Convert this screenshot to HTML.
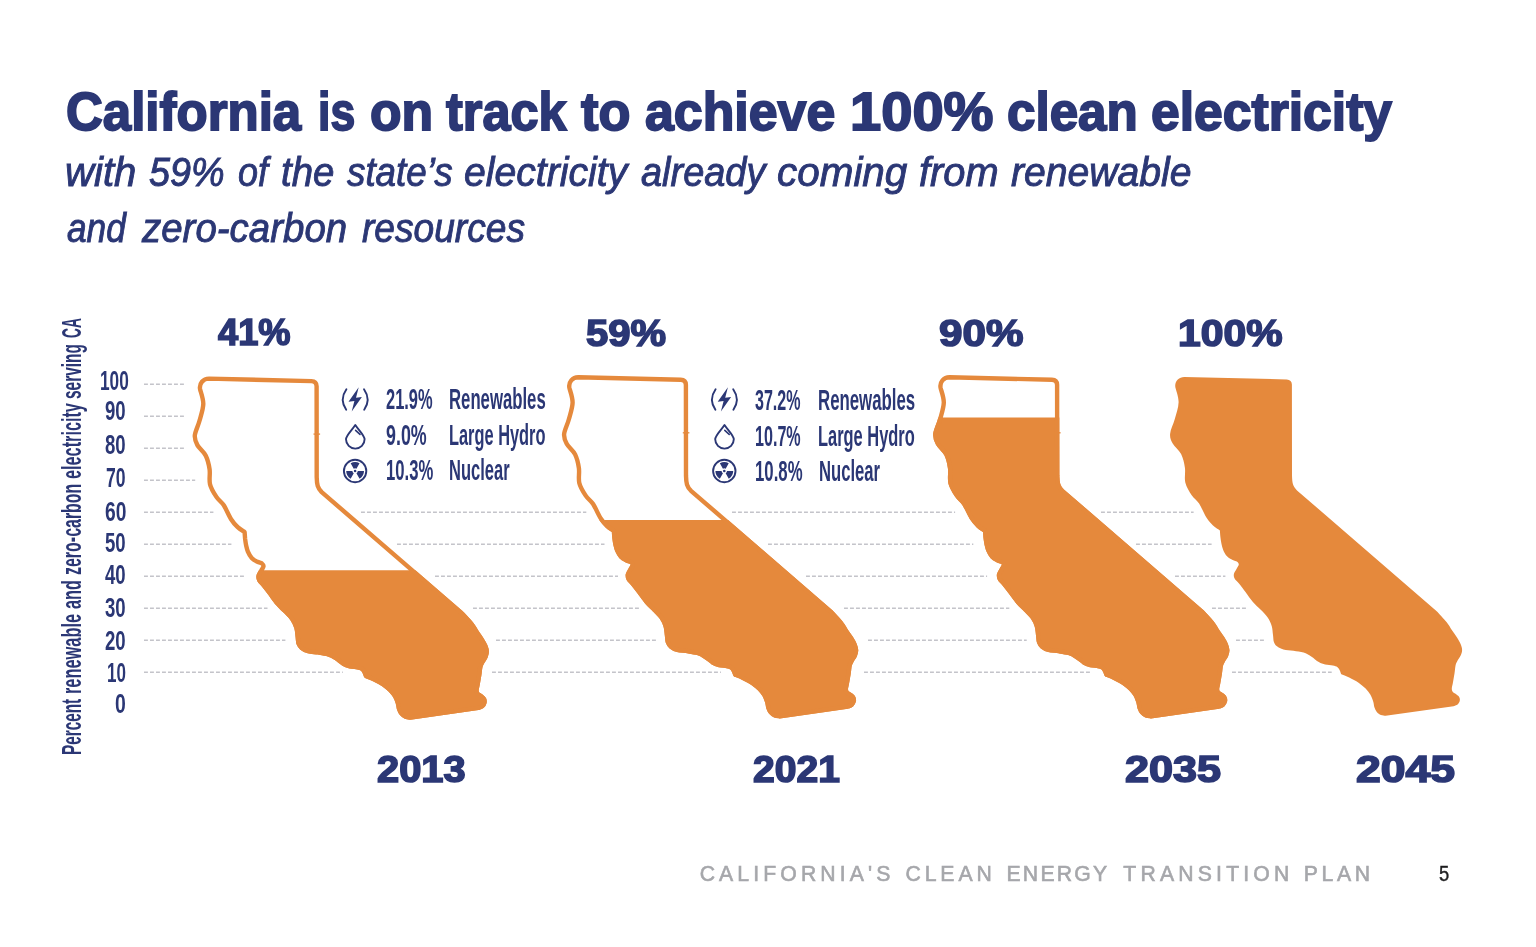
<!DOCTYPE html>
<html lang="en"><head><meta charset="utf-8"><title>California's Clean Energy Transition Plan</title>
<style>
html,body{margin:0;padding:0;background:#fff;}
body{width:1536px;height:947px;position:relative;overflow:hidden;font-family:"Liberation Sans",sans-serif;color:#2b3775;}
svg{position:absolute;left:0;top:0;}
h1,p{margin:0;padding:0;font-size:inherit;font-weight:inherit;}
.t{position:absolute;white-space:nowrap;line-height:1;transform-origin:0 0;}
.ttl{font-weight:bold;-webkit-text-stroke:1.90px #2b3775;}
.sub{font-style:italic;font-weight:normal;-webkit-text-stroke:0.90px #2b3775;}
.blk{font-weight:bold;-webkit-text-stroke:1.60px #2b3775;}
.cnd{font-weight:bold;}
.ftr{color:#a6a7ab;font-weight:normal;-webkit-text-stroke:0.6px #a6a7ab;}
.pg{color:#1d1d1f;font-weight:normal;-webkit-text-stroke:0.4px #1d1d1f;}
.vt{position:absolute;white-space:nowrap;line-height:1;font-weight:bold;transform-origin:0 0;}
</style></head>
<body>
<svg width="1536" height="947" viewBox="0 0 1536 947">
<g stroke="#c4c4ca" stroke-width="1.5" stroke-dasharray="3.9 2.1" fill="none"><line x1="144" y1="384.25" x2="185.1" y2="384.25"/><line x1="144" y1="416.25" x2="185.1" y2="416.25"/><line x1="144" y1="448.25" x2="185.1" y2="448.25"/><line x1="144" y1="480.25" x2="195.2" y2="480.25"/><line x1="144" y1="512.25" x2="213.4" y2="512.25"/><line x1="361" y1="512.25" x2="586.3" y2="512.25"/><line x1="732" y1="512.25" x2="955.1" y2="512.25"/><line x1="1101" y1="512.25" x2="1193.6" y2="512.25"/><line x1="144" y1="544.25" x2="231.4" y2="544.25"/><line x1="397" y1="544.25" x2="604.5" y2="544.25"/><line x1="768" y1="544.25" x2="973.3" y2="544.25"/><line x1="1136" y1="544.25" x2="1211.6" y2="544.25"/><line x1="144" y1="576.25" x2="244.9" y2="576.25"/><line x1="435" y1="576.25" x2="618.0" y2="576.25"/><line x1="806" y1="576.25" x2="987.1" y2="576.25"/><line x1="1175" y1="576.25" x2="1225.4" y2="576.25"/><line x1="144" y1="608.25" x2="267.5" y2="608.25"/><line x1="473" y1="608.25" x2="640.2" y2="608.25"/><line x1="844" y1="608.25" x2="1009.3" y2="608.25"/><line x1="1212" y1="608.25" x2="1247.5" y2="608.25"/><line x1="144" y1="640.25" x2="285.4" y2="640.25"/><line x1="496" y1="640.25" x2="657.9" y2="640.25"/><line x1="868" y1="640.25" x2="1026.7" y2="640.25"/><line x1="1236" y1="640.25" x2="1265.0" y2="640.25"/><line x1="144" y1="672.25" x2="342.8" y2="672.25"/><line x1="492" y1="672.25" x2="720.9" y2="672.25"/><line x1="864" y1="672.25" x2="1090.0" y2="672.25"/><line x1="1232" y1="672.25" x2="1331.7" y2="672.25"/></g>
<defs><path id="ca" d="M1184.3,376.9 L1286.7,379.4 Q1291.8,379.6 1291.9,384.5 L1292,475.5 C1292.2,483 1292.8,486.2 1297,490.4 L1436.7,611.2 C1438.4,613.0 1444.2,619.1 1446.7,622.2 C1449.2,625.3 1450.1,627.4 1451.8,630.0 C1453.5,632.6 1455.5,635.2 1457.0,637.6 C1458.5,640.0 1459.8,642.1 1460.6,644.1 C1461.4,646.1 1462.1,648.0 1462.1,649.9 C1462.1,651.8 1461.5,653.4 1460.8,655.2 C1460.0,657.0 1458.5,658.8 1457.6,660.5 C1456.7,662.2 1456.1,663.1 1455.6,665.2 C1455.1,667.4 1455.0,670.5 1454.5,673.4 C1454.0,676.3 1453.4,680.2 1452.9,682.7 C1452.5,685.2 1451.8,687.0 1451.8,688.6 C1451.8,690.2 1452.1,691.1 1452.9,692.1 C1453.7,693.1 1455.4,693.6 1456.5,694.5 C1457.6,695.4 1458.9,696.3 1459.4,697.4 C1459.9,698.5 1460.0,699.7 1459.7,700.9 C1459.4,702.1 1458.6,703.5 1457.6,704.4 C1456.6,705.3 1454.2,705.9 1453.5,706.2 L1385.6,715.8 C1384.8,715.7 1382.4,715.6 1380.9,715.0 C1379.4,714.4 1377.9,713.3 1376.8,712.0 C1375.7,710.7 1375.0,709.0 1374.4,707.3 C1373.8,705.5 1373.9,703.6 1373.2,701.5 C1372.5,699.4 1371.6,696.6 1370.3,694.5 C1369.0,692.4 1367.5,690.6 1365.6,688.6 C1363.6,686.6 1361.3,684.6 1358.6,682.7 C1355.9,680.9 1352.1,678.9 1349.2,677.5 C1346.3,676.1 1342.6,674.8 1341.3,674.3 C1341.0,673.6 1340.4,671.6 1339.8,670.4 C1339.2,669.2 1338.7,668.0 1337.5,667.2 C1336.3,666.4 1334.8,666.0 1332.8,665.6 C1330.8,665.2 1327.5,665.2 1325.2,664.6 C1322.9,664.0 1321.1,663.5 1318.8,662.1 C1316.5,660.7 1313.7,658.0 1311.2,656.4 C1308.7,654.8 1306.5,653.5 1303.6,652.6 C1300.6,651.7 1296.9,651.2 1293.5,650.7 C1290.1,650.2 1286.2,650.2 1283.4,649.5 C1280.7,648.8 1278.6,647.6 1277.0,646.3 C1275.4,645.0 1274.6,643.8 1273.9,641.9 C1273.2,640.0 1273.4,637.5 1273.0,634.9 C1272.6,632.2 1272.6,629.0 1271.7,626.0 C1270.8,623.0 1269.4,619.9 1267.5,617.2 C1265.6,614.5 1262.9,612.1 1260.5,609.6 C1258.1,607.1 1255.4,605.0 1252.9,602.0 C1250.4,599.0 1247.6,594.9 1245.3,591.8 C1243.0,588.7 1240.8,585.8 1239.0,583.6 C1237.2,581.4 1235.4,580.1 1234.6,578.5 C1233.8,576.9 1233.6,575.7 1233.9,574.1 C1234.2,572.5 1235.7,570.6 1236.5,569.0 C1237.3,567.4 1238.7,565.8 1238.8,564.6 C1238.9,563.4 1238.1,562.5 1237.1,561.7 C1236.1,561.0 1234.4,561.0 1232.7,560.1 C1231.0,559.2 1228.6,558.0 1227.0,556.3 C1225.4,554.6 1224.1,552.1 1223.2,550.0 C1222.3,547.9 1221.9,545.7 1221.4,543.5 C1220.9,541.3 1220.7,539.2 1220.4,537.0 C1220.2,534.8 1220.0,531.5 1219.9,530.4 C1218.8,529.6 1215.2,527.6 1213.0,525.5 C1210.8,523.4 1208.7,521.1 1206.4,517.5 C1204.1,513.9 1201.5,507.3 1199.1,503.6 C1196.6,499.9 1194.0,498.7 1191.7,495.2 C1189.4,491.7 1186.4,487.1 1185.3,482.5 C1184.2,477.9 1185.6,472.4 1184.9,467.7 C1184.2,462.9 1183.1,458.1 1181.1,454.0 C1179.1,449.9 1174.5,446.8 1172.7,443.4 C1170.9,440.0 1169.8,437.9 1170.1,433.9 C1170.4,429.8 1173.4,424.4 1174.8,419.1 C1176.2,413.8 1178.5,407.5 1178.6,402.2 C1178.7,396.9 1175.9,389.9 1175.4,387.5 C1174.3,381.5 1178.5,377.0 1184.3,376.9 Z"/></defs>
<clipPath id="lv0"><rect x="0" y="570.3" width="1536" height="400"/></clipPath>
<g transform="translate(-975.3,1.7)">
<use href="#ca" fill="#fff" stroke="#e5893c" stroke-width="4.4" stroke-linejoin="round"/>
<path d="M1288.8,432.4 h6.6" stroke="#e5893c" stroke-width="1.3" fill="none"/>
</g>
<g clip-path="url(#lv0)"><use href="#ca" transform="translate(-975.3,1.7)" fill="#e5893c" stroke="#e5893c" stroke-width="4.4" stroke-linejoin="round"/></g>
<clipPath id="lv1"><rect x="0" y="520.0" width="1536" height="400"/></clipPath>
<g transform="translate(-606.0,0.4)">
<use href="#ca" fill="#fff" stroke="#e5893c" stroke-width="4.4" stroke-linejoin="round"/>
<path d="M1288.8,432.4 h6.6" stroke="#e5893c" stroke-width="1.3" fill="none"/>
</g>
<g clip-path="url(#lv1)"><use href="#ca" transform="translate(-606.0,0.4)" fill="#e5893c" stroke="#e5893c" stroke-width="4.4" stroke-linejoin="round"/></g>
<clipPath id="lv2"><rect x="0" y="417.6" width="1536" height="400"/></clipPath>
<g transform="translate(-234.8,0.4)">
<use href="#ca" fill="#fff" stroke="#e5893c" stroke-width="4.4" stroke-linejoin="round"/>
<path d="M1288.8,432.4 h6.6" stroke="#e5893c" stroke-width="1.3" fill="none"/>
</g>
<g clip-path="url(#lv2)"><use href="#ca" transform="translate(-234.8,0.4)" fill="#e5893c" stroke="#e5893c" stroke-width="4.4" stroke-linejoin="round"/></g>
<use href="#ca" fill="#e5893c"/>
<g transform="translate(0.0,0)" fill="none" stroke="#2b3775" stroke-width="1.9" stroke-linecap="round" stroke-linejoin="round"><path d="M346.4,389.2 Q339.2,399.5 346.2,409.8"/><path d="M364.0,389.2 Q371.2,399.5 364.2,409.8"/><path d="M358.7,387.3 L348.5,401.7 L354.4,401.0 L351.7,411.5 L361.9,397.1 L356.0,397.8 Z" fill="#2b3775" stroke="none"/><path d="M355.3,425 C352,430 346,435.5 346,439.3 A9.3,9.3 0 0 0 364.6,439.3 C364.6,435.5 358.6,430 355.3,425 Z"/><path d="M355.6,430.4 L360.0,434.4" stroke-width="1.6"/><circle cx="355.1" cy="471.0" r="11.2"/><path d="M353.75,473.34 L350.65,478.71 A8.9,8.9 0 0 1 346.20,471.00 L352.40,471.00 A2.7,2.7 0 0 0 353.75,473.34 Z" fill="#2b3775" stroke="none"/><path d="M353.75,468.66 L350.65,463.29 A8.9,8.9 0 0 1 359.55,463.29 L356.45,468.66 A2.7,2.7 0 0 0 353.75,468.66 Z" fill="#2b3775" stroke="none"/><path d="M357.80,471.00 L364.00,471.00 A8.9,8.9 0 0 1 359.55,478.71 L356.45,473.34 A2.7,2.7 0 0 0 357.80,471.00 Z" fill="#2b3775" stroke="none"/><circle cx="355.1" cy="471.0" r="1.3" fill="#2b3775" stroke="none"/></g>
<g transform="translate(369.2,0)" fill="none" stroke="#2b3775" stroke-width="1.9" stroke-linecap="round" stroke-linejoin="round"><path d="M346.4,389.2 Q339.2,399.5 346.2,409.8"/><path d="M364.0,389.2 Q371.2,399.5 364.2,409.8"/><path d="M358.7,387.3 L348.5,401.7 L354.4,401.0 L351.7,411.5 L361.9,397.1 L356.0,397.8 Z" fill="#2b3775" stroke="none"/><path d="M355.3,425 C352,430 346,435.5 346,439.3 A9.3,9.3 0 0 0 364.6,439.3 C364.6,435.5 358.6,430 355.3,425 Z"/><path d="M355.6,430.4 L360.0,434.4" stroke-width="1.6"/><circle cx="355.1" cy="471.0" r="11.2"/><path d="M353.75,473.34 L350.65,478.71 A8.9,8.9 0 0 1 346.20,471.00 L352.40,471.00 A2.7,2.7 0 0 0 353.75,473.34 Z" fill="#2b3775" stroke="none"/><path d="M353.75,468.66 L350.65,463.29 A8.9,8.9 0 0 1 359.55,463.29 L356.45,468.66 A2.7,2.7 0 0 0 353.75,468.66 Z" fill="#2b3775" stroke="none"/><path d="M357.80,471.00 L364.00,471.00 A8.9,8.9 0 0 1 359.55,478.71 L356.45,473.34 A2.7,2.7 0 0 0 357.80,471.00 Z" fill="#2b3775" stroke="none"/><circle cx="355.1" cy="471.0" r="1.3" fill="#2b3775" stroke="none"/></g>
</svg>
<h1>
<span id="t0" class="t ttl" style="left:65.92px;top:84.57px;font-size:54.5px;transform:scaleX(0.9356);">California</span>
<span id="t1" class="t ttl" style="left:317.82px;top:84.57px;font-size:54.5px;transform:scaleX(0.8178);">is</span>
<span id="t2" class="t ttl" style="left:369.80px;top:84.57px;font-size:54.5px;transform:scaleX(0.9479);">on</span>
<span id="t3" class="t ttl" style="left:445.98px;top:84.57px;font-size:54.5px;transform:scaleX(0.9249);">track</span>
<span id="t4" class="t ttl" style="left:581.41px;top:84.57px;font-size:54.5px;transform:scaleX(0.9606);">to</span>
<span id="t5" class="t ttl" style="left:644.75px;top:84.57px;font-size:54.5px;transform:scaleX(0.9515);">achieve</span>
<span id="t6" class="t ttl" style="left:849.59px;top:84.57px;font-size:54.5px;transform:scaleX(1.0295);">100%</span>
<span id="t7" class="t ttl" style="left:1006.91px;top:84.57px;font-size:54.5px;transform:scaleX(0.9384);">clean</span>
<span id="t8" class="t ttl" style="left:1150.81px;top:84.57px;font-size:54.5px;transform:scaleX(0.9472);">electricity</span>
</h1>
<p>
<span id="s0" class="t sub" style="left:65.35px;top:151.84px;font-size:40.0px;transform:scaleX(1.0031);">with</span>
<span id="s1" class="t sub" style="left:149.43px;top:151.84px;font-size:40.0px;transform:scaleX(0.9447);">59%</span>
<span id="s2" class="t sub" style="left:237.51px;top:151.84px;font-size:40.0px;transform:scaleX(0.8992);">of</span>
<span id="s3" class="t sub" style="left:281.27px;top:151.84px;font-size:40.0px;transform:scaleX(0.9602);">the</span>
<span id="s4" class="t sub" style="left:347.31px;top:151.84px;font-size:40.0px;transform:scaleX(0.9198);">state’s</span>
<span id="s5" class="t sub" style="left:463.86px;top:151.84px;font-size:40.0px;transform:scaleX(0.9794);">electricity</span>
<span id="s6" class="t sub" style="left:640.83px;top:151.84px;font-size:40.0px;transform:scaleX(0.9482);">already</span>
<span id="s7" class="t sub" style="left:777.14px;top:151.84px;font-size:40.0px;transform:scaleX(1.0109);">coming</span>
<span id="s8" class="t sub" style="left:918.85px;top:151.84px;font-size:40.0px;transform:scaleX(0.9939);">from</span>
<span id="s9" class="t sub" style="left:1010.94px;top:151.84px;font-size:40.0px;transform:scaleX(0.9782);">renewable</span>
<span id="u0" class="t sub" style="left:67.30px;top:207.89px;font-size:40.0px;transform:scaleX(0.8819);">and</span>
<span id="u1" class="t sub" style="left:142.49px;top:207.89px;font-size:40.0px;transform:scaleX(0.9613);">zero-carbon</span>
<span id="u2" class="t sub" style="left:361.62px;top:207.89px;font-size:40.0px;transform:scaleX(0.9279);">resources</span>
</p>
<div>
<span id="p1" class="t blk" style="left:217.78px;top:313.73px;font-size:37.3px;transform:scaleX(0.9726);">41%</span>
<span id="p2" class="t blk" style="left:586.19px;top:314.73px;font-size:37.3px;transform:scaleX(1.0734);">59%</span>
<span id="p3" class="t blk" style="left:939.07px;top:314.73px;font-size:37.3px;transform:scaleX(1.1307);">90%</span>
<span id="p4" class="t blk" style="left:1178.49px;top:314.73px;font-size:37.3px;transform:scaleX(1.0957);">100%</span>
<span id="y1" class="t blk" style="left:376.79px;top:750.73px;font-size:37.3px;transform:scaleX(1.0685);">2013</span>
<span id="y2" class="t blk" style="left:752.69px;top:750.73px;font-size:37.3px;transform:scaleX(1.0467);">2021</span>
<span id="y3" class="t blk" style="left:1124.77px;top:750.73px;font-size:37.3px;transform:scaleX(1.1578);">2035</span>
<span id="y4" class="t blk" style="left:1356.46px;top:750.73px;font-size:37.3px;transform:scaleX(1.1928);">2045</span>
<span id="f0" class="t ftr" style="left:699.70px;top:863.35px;font-size:21.2px;letter-spacing:4.12px;">CALIFORNIA'S</span>
<span id="f1" class="t ftr" style="left:905.40px;top:863.35px;font-size:21.2px;letter-spacing:3.94px;">CLEAN</span>
<span id="f2" class="t ftr" style="left:1006.50px;top:863.35px;font-size:21.2px;letter-spacing:2.23px;">ENERGY</span>
<span id="f3" class="t ftr" style="left:1123.30px;top:863.35px;font-size:21.2px;letter-spacing:4.19px;">TRANSITION</span>
<span id="f4" class="t ftr" style="left:1303.80px;top:863.35px;font-size:21.2px;letter-spacing:3.65px;">PLAN</span>
<span id="pg" class="t pg" style="left:1439.07px;top:863.35px;font-size:21.2px;transform:scaleX(0.8684);">5</span>
<span id="a100" class="t cnd" style="left:99.68px;top:367.30px;font-size:28.0px;transform:scaleX(0.6158);">100</span>
<span id="a90" class="t cnd" style="left:105.30px;top:397.30px;font-size:28.0px;transform:scaleX(0.6640);">90</span>
<span id="a80" class="t cnd" style="left:105.30px;top:430.50px;font-size:28.0px;transform:scaleX(0.6640);">80</span>
<span id="a70" class="t cnd" style="left:106.37px;top:464.20px;font-size:28.0px;transform:scaleX(0.6290);">70</span>
<span id="a60" class="t cnd" style="left:104.61px;top:497.70px;font-size:28.0px;transform:scaleX(0.6865);">60</span>
<span id="a50" class="t cnd" style="left:105.30px;top:528.70px;font-size:28.0px;transform:scaleX(0.6640);">50</span>
<span id="a40" class="t cnd" style="left:105.30px;top:560.60px;font-size:28.0px;transform:scaleX(0.6640);">40</span>
<span id="a30" class="t cnd" style="left:105.30px;top:593.50px;font-size:28.0px;transform:scaleX(0.6640);">30</span>
<span id="a20" class="t cnd" style="left:105.30px;top:626.90px;font-size:28.0px;transform:scaleX(0.6640);">20</span>
<span id="a10" class="t cnd" style="left:106.99px;top:658.80px;font-size:28.0px;transform:scaleX(0.6087);">10</span>
<span id="a0" class="t cnd" style="left:115.21px;top:690.00px;font-size:28.0px;transform:scaleX(0.6929);">0</span>
<span id="l0" class="t cnd" style="left:385.70px;top:384.89px;font-size:28.6px;transform:scaleX(0.5753);">21.9%</span>
<span id="l1" class="t cnd" style="left:448.71px;top:384.89px;font-size:28.6px;transform:scaleX(0.5851);">Renewables</span>
<span id="l2" class="t cnd" style="left:386.20px;top:420.89px;font-size:28.6px;transform:scaleX(0.6239);">9.0%</span>
<span id="l3" class="t cnd" style="left:448.73px;top:420.89px;font-size:28.6px;transform:scaleX(0.5726);">Large Hydro</span>
<span id="l4" class="t cnd" style="left:385.62px;top:456.39px;font-size:28.6px;transform:scaleX(0.5825);">10.3%</span>
<span id="l5" class="t cnd" style="left:448.72px;top:456.39px;font-size:28.6px;transform:scaleX(0.5773);">Nuclear</span>
<span id="m0" class="t cnd" style="left:754.70px;top:385.69px;font-size:28.6px;transform:scaleX(0.5617);">37.2%</span>
<span id="m1" class="t cnd" style="left:817.81px;top:385.69px;font-size:28.6px;transform:scaleX(0.5876);">Renewables</span>
<span id="m2" class="t cnd" style="left:755.14px;top:421.69px;font-size:28.6px;transform:scaleX(0.5637);">10.7%</span>
<span id="m3" class="t cnd" style="left:818.43px;top:421.69px;font-size:28.6px;transform:scaleX(0.5744);">Large Hydro</span>
<span id="m4" class="t cnd" style="left:755.11px;top:457.19px;font-size:28.6px;transform:scaleX(0.5863);">10.8%</span>
<span id="m5" class="t cnd" style="left:819.22px;top:457.19px;font-size:28.6px;transform:scaleX(0.5821);">Nuclear</span>
</div>
<div>
<span id="v0" class="vt" style="left:59.04px;top:754.77px;font-size:27.0px;transform:rotate(-90deg) scaleX(0.5670);">Percent</span>
<span id="v1" class="vt" style="left:59.04px;top:693.71px;font-size:27.0px;transform:rotate(-90deg) scaleX(0.6067);">renewable</span>
<span id="v2" class="vt" style="left:59.04px;top:608.70px;font-size:27.0px;transform:rotate(-90deg) scaleX(0.5999);">and</span>
<span id="v3" class="vt" style="left:59.04px;top:574.59px;font-size:27.0px;transform:rotate(-90deg) scaleX(0.5913);">zero-carbon</span>
<span id="v4" class="vt" style="left:59.04px;top:479.40px;font-size:27.0px;transform:rotate(-90deg) scaleX(0.6021);">electricity</span>
<span id="v5" class="vt" style="left:59.04px;top:399.30px;font-size:27.0px;transform:rotate(-90deg) scaleX(0.5722);">serving</span>
<span id="v6" class="vt" style="left:59.04px;top:338.21px;font-size:27.0px;transform:rotate(-90deg) scaleX(0.5120);">CA</span>
</div>
</body></html>
